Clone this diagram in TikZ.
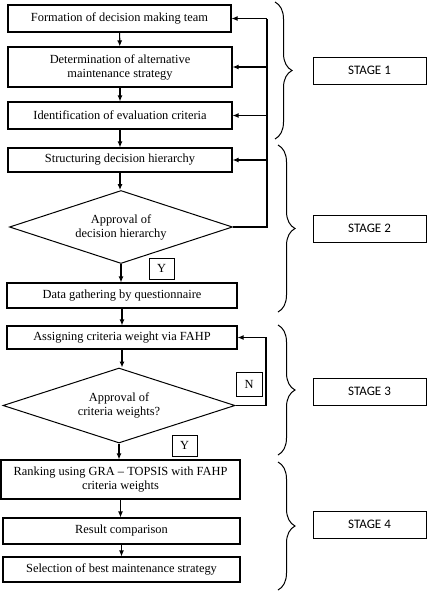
\documentclass[tikz,border=0pt]{standalone}
\usepackage{fontspec}
\setmainfont{Liberation Serif}
\newfontfamily\stagefont{Carlito}
\usetikzlibrary{shapes.geometric,arrows.meta,decorations.pathreplacing}

\tikzset{
  stepbox/.style={rectangle, draw, line width=1.1pt, align=center, inner sep=0pt},
  askbox/.style={diamond, draw, line width=1pt, align=center, inner sep=0pt},
  tagbox/.style={rectangle, draw, line width=0.9pt, minimum width=25pt, minimum height=21pt, inner sep=0pt},
  stagebox/.style={rectangle, draw, line width=1pt, minimum width=113pt, minimum height=27pt, font=\stagefont\fontsize{13}{15}\selectfont},
  flow/.style={-{Latex[length=6pt,width=5pt]}, line width=1.1pt},
  stagebrace/.style={decorate, decoration={brace, amplitude=17pt}, line width=1pt}
}

\begin{document}
\begin{tikzpicture}[x=1pt, y=-1pt, font=\fontsize{12.4}{14}\selectfont]
\useasboundingbox (0,0) rectangle (427,592);

\node[stepbox, minimum width=223pt, minimum height=27pt] (b1) at (119.5,18.5) {Formation of decision making team};
\node[stepbox, minimum width=224pt, minimum height=40pt] (b2) at (120,67) {Determination of alternative\\maintenance strategy};
\node[stepbox, minimum width=224pt, minimum height=27pt] (b3) at (120,115.5) {Identification of evaluation criteria};
\node[stepbox, minimum width=224pt, minimum height=24pt] (b4) at (120,160) {Structuring decision hierarchy};
\node[askbox, aspect=3.05, minimum width=223pt, minimum height=73pt] (d1) at (121,227) {Approval of\\decision hierarchy};
\node[tagbox] (y1) at (161.5,268.5) {Y};
\node[stepbox, minimum width=230pt, minimum height=25pt] (b5) at (122,295.5) {Data gathering by questionnaire};
\node[stepbox, minimum width=230pt, minimum height=23pt] (b6) at (122,337.5) {Assigning criteria weight via FAHP};
\node[askbox, aspect=3.09, minimum width=232pt, minimum height=75pt] (d2) at (119,405.5) {Approval of\\criteria weights?};
\node[tagbox, minimum width=26pt, minimum height=24pt] (n1) at (249,384) {N};
\node[tagbox] (y2) at (184.5,445.5) {Y};
\node[stepbox, minimum width=239pt, minimum height=39pt] (b7) at (120.5,479.5) {Ranking using GRA -- TOPSIS with FAHP\\criteria weights};
\node[stepbox, minimum width=237pt, minimum height=26pt] (b8) at (121.5,531) {Result comparison};
\node[stepbox, minimum width=237pt, minimum height=25pt] (b9) at (121.5,569.5) {Selection of best maintenance strategy};

\node[stagebox] (s1) at (369.5,70.5) {STAGE 1};
\node[stagebox] (s2) at (369.5,228.5) {STAGE 2};
\node[stagebox] (s3) at (369.5,391.5) {STAGE 3};
\node[stagebox] (s4) at (369.5,524.5) {STAGE 4};

% main flow
\draw[flow] (b1) -- (b2);
\draw[flow] (b2) -- (b3);
\draw[flow] (b3) -- (b4);
\draw[flow] (b4.south) -- (b4.south |- d1.north);
\draw[flow] (d1.south) -- (d1.south |- b5.north);
\draw[flow] (b5.south) -- (b5.south |- b6.north);
\draw[flow] (b6.south) -- (b6.south |- d2.north);
\draw[flow] (d2.south) -- (d2.south |- b7.north);
\draw[flow] (b7) -- (b7 |- b8.north);
\draw[flow] (b8) -- (b8 |- b9.north);

% feedback of stage 1 and 2
\coordinate (r1) at (267,18.5);
\coordinate (r2) at (267,67);
\coordinate (r3) at (267,115.5);
\coordinate (r4) at (267,160);
\draw[line width=1.1pt] (d1.east) -| (r1);
\draw[flow] (r1) -- (b1.east);
\draw[flow] (r2) -- (b2.east);
\draw[flow] (r3) -- (b3.east);
\draw[flow] (r4) -- (b4.east);

% feedback of stage 3
\coordinate (r6) at (266,337.5);
\draw[flow] (d2.east) -| (r6) -- (b6.east);

% stages
\draw[stagebrace] (275,2) -- (275,139);
\draw[stagebrace] (278,145) -- (278,312);
\draw[stagebrace] (278,325) -- (278,455);
\draw[stagebrace] (278,462) -- (278,590);

\end{tikzpicture}
\end{document}
